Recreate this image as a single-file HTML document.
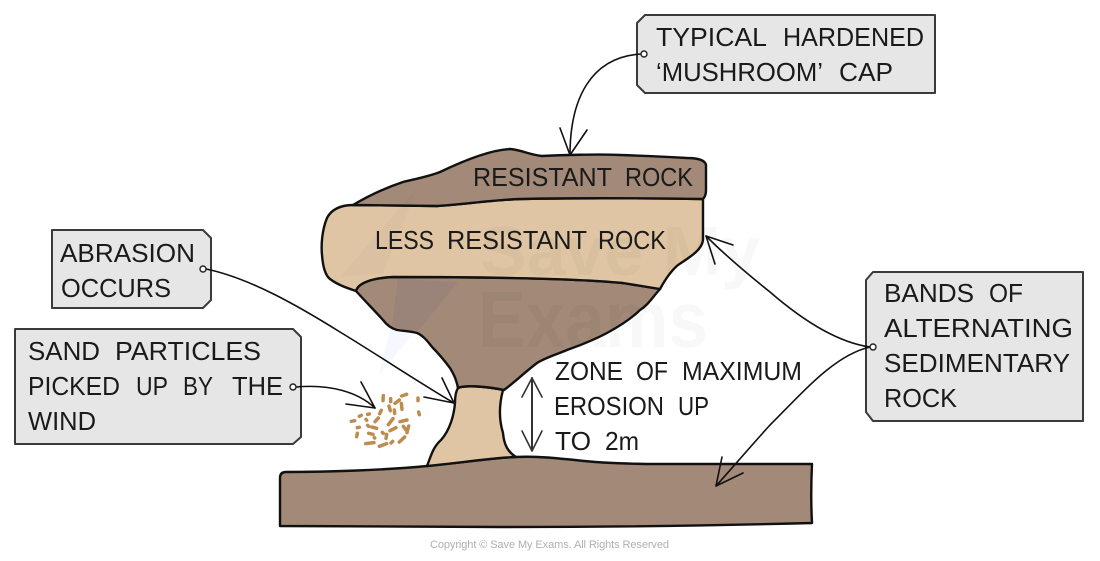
<!DOCTYPE html>
<html><head><meta charset="utf-8"><style>
html,body{margin:0;padding:0;background:#fff;width:1100px;height:561px;overflow:hidden}
svg{display:block}
text{font-family:"Liberation Sans",sans-serif;font-size:26px;fill:#1a1a1a}
</style></head><body>
<svg width="1100" height="561" viewBox="0 0 1100 561" xmlns="http://www.w3.org/2000/svg">
<!-- watermark on white -->
<polygon points="397,278 458,282 413,333 378,377 390,330" fill="#f5f8ff"/>
<!-- ground -->
<path d="M280 526 L280 478 Q280 472 286 472 C330 472 385 470 427 466 C460 463 490 458 515 457 C535 456 555 458 575 460 C600 463 630 464 660 464 L812 464 C811 485 811 505 812 523 C700 526 600 527 500 527 C420 527 350 526 280 526 Z" fill="#a28978" stroke="#111" stroke-width="2.4" stroke-linejoin="round"/>
<!-- neck -->
<path d="M458 388 C464 385 485 386 503 390 C499 405 499 420 503 433 C504 445 508 452 516 457 C490 458 460 463 427 466 C431 456 433 447 441 440 C450 430 454 415 455 403 C455 396 456 391 458 388 Z" fill="#dfc5a3" stroke="#111" stroke-width="2.4" stroke-linejoin="round"/>
<!-- lower brown -->
<path d="M356 291 C358 283 372 278 393 277 C430 277 560 277 623 283 L660 289 C652 298 648 305 640 310 C630 320 618 327 607 333 C590 342 578 346 567 350 C555 355 545 358 537 363 C525 372 515 382 504 390 C485 386 464 385 458 388 C456 378 453 373 450 368 C444 360 440 355 433 348 C428 342 424 336 417 333 C410 331 403 331 397 330 C390 328 386 324 383 320 C374 310 365 301 356 291 Z" fill="#a28978" stroke="#111" stroke-width="2.4" stroke-linejoin="round"/>
<!-- middle band -->
<path d="M353 205 C340 205 331 210 327 218 C322 230 321 245 322 255 C323 268 326 276 330 279 C338 285 347 288 356 291 C358 283 372 278 393 277 C430 277 560 277 623 283 L660 289 C666 278 672 270 678 265 C690 257 702 250 703 240 L703 199 C640 198 560 198 520 199 C490 200 460 205 437 206 Z" fill="#dfc5a3" stroke="#111" stroke-width="2.4" stroke-linejoin="round"/>
<!-- cap -->
<path d="M353 205 C370 195 385 188 403 182 C420 178 430 176 440 172 C465 160 490 150 510 149 C522 150 530 155 542 156 C560 155 600 154 620 155 C650 156 670 157 687 158 C697 158 705 160 706 165 L706 190 Q706 196 703 199 C640 198 560 198 520 199 C490 200 460 205 437 206 Z" fill="#a28978" stroke="#111" stroke-width="2.4" stroke-linejoin="round"/>
<!-- watermark on rock -->
<g style="mix-blend-mode:multiply">
<polygon points="398,279 458,282 418,331 404,330 392,326" fill="#f2f4ff"/>
<polygon points="418,187 383,273 340,277" fill="#fbfafc"/>
</g>
<g opacity="0.022">
<text x="480" y="275" style="font-size:70px;font-weight:bold;fill:#000" textLength="280" lengthAdjust="spacingAndGlyphs">Save My</text>
<text x="478" y="347" style="font-size:80px;font-weight:bold;fill:#000" textLength="230" lengthAdjust="spacingAndGlyphs">Exams</text>
</g>
<!-- boxes -->
<g fill="#e6e6e6" stroke="#3a3a3a" stroke-width="2" stroke-linejoin="round">
<path d="M645 15 L935 15 L935 93 L645 93 L637 85 L637 23 Z"/>
<path d="M52 230 L203 230 L211 238 L211 300 L203 308 L52 308 Z"/>
<path d="M15 329 L293 329 L301 337 L301 437 L293 444 L15 444 Z"/>
<path d="M873 272 L1083 272 L1083 421 L873 421 L866 412 L866 280 Z"/>
</g>
<!-- connectors -->
<g fill="none" stroke="#111" stroke-width="1.6" stroke-linecap="round" stroke-linejoin="round">
<path d="M641 54 C590 57 570 100 570 155"/>
<path d="M560 128 L570 155 L587 130"/>
<path d="M206 269 C250 278 300 307 340 332 C378 355 418 382 454 403"/>
<path d="M442 378 L454 403 L424 397"/>
<path d="M296 387 C330 384 358 392 375 408"/>
<path d="M361 382 L375 408 L346 404"/>
<path d="M870 347 C835 342 800 318 770 292 C745 272 725 255 706 236"/>
<path d="M715 264 L706 236 L733 245"/>
<path d="M870 347 C835 355 805 390 770 425 C750 447 733 467 716 486"/>
<path d="M722 457 L716 486 L743 473"/>
<path d="M532 378 L532 450" stroke="#333" stroke-width="2"/>
<path d="M522 397 L532 378 L542 397 M522 431 L532 451 L542 431" stroke="#333"/>
</g>
<g fill="#fff" stroke="#222" stroke-width="1.4">
<circle cx="644" cy="54" r="3"/><circle cx="203" cy="269" r="3"/><circle cx="293" cy="387" r="3"/><circle cx="873" cy="347" r="3"/>
</g>
<!-- sand -->
<g transform="translate(340 380) scale(.3333)" stroke="#bd8c50" stroke-width="10.5" stroke-linecap="round" fill="none">
<path d="M130 47L129 62M152 56L152 65M185 48L200 43M165 70L178 60M184 70L186 88M147 78L151 92M163 90L164 100M124 91L119 101M234 54L234 62M236 96L238 104M34 124L44 122M58 109L64 106M83 103L88 102M78 118L80 121M105 125L115 114M145 134L159 116M180 125L201 120M52 143L58 142M83 136L86 139M95 141L110 145M150 152L168 143M190 139L198 150M206 138L201 158M52 160L50 170M86 160L99 163M127 157L130 160M140 163L138 175M103 173L104 174M77 191L102 188M118 199L140 191M153 189L158 184M178 186L194 171"/>
</g>
<!-- labels -->
<g lengthAdjust="spacingAndGlyphs">
<text lengthAdjust="spacingAndGlyphs" x="656" y="46" textLength="111">TYPICAL</text><text lengthAdjust="spacingAndGlyphs" x="783" y="46" textLength="141">HARDENED</text>
<text lengthAdjust="spacingAndGlyphs" x="656" y="81" textLength="167">‘MUSHROOM’</text><text lengthAdjust="spacingAndGlyphs" x="839" y="81" textLength="54">CAP</text>
<text lengthAdjust="spacingAndGlyphs" x="473" y="186" textLength="139">RESISTANT</text><text lengthAdjust="spacingAndGlyphs" x="625" y="186" textLength="68">ROCK</text>
<text lengthAdjust="spacingAndGlyphs" x="375" y="249" textLength="59">LESS</text><text lengthAdjust="spacingAndGlyphs" x="447" y="249" textLength="140">RESISTANT</text><text lengthAdjust="spacingAndGlyphs" x="598" y="249" textLength="68">ROCK</text>
<text lengthAdjust="spacingAndGlyphs" x="60" y="262" textLength="135">ABRASION</text>
<text lengthAdjust="spacingAndGlyphs" x="61" y="297" textLength="110">OCCURS</text>
<text lengthAdjust="spacingAndGlyphs" x="28" y="360" textLength="72">SAND</text><text lengthAdjust="spacingAndGlyphs" x="115" y="360" textLength="146">PARTICLES</text>
<text lengthAdjust="spacingAndGlyphs" x="28" y="395" textLength="92">PICKED</text><text lengthAdjust="spacingAndGlyphs" x="136" y="395" textLength="32">UP</text><text lengthAdjust="spacingAndGlyphs" x="183" y="395" textLength="30">BY</text><text lengthAdjust="spacingAndGlyphs" x="232" y="395" textLength="51">THE</text>
<text lengthAdjust="spacingAndGlyphs" x="28" y="430" textLength="68">WIND</text>
<text lengthAdjust="spacingAndGlyphs" x="884" y="302" textLength="90">BANDS</text><text lengthAdjust="spacingAndGlyphs" x="989" y="302" textLength="34">OF</text>
<text lengthAdjust="spacingAndGlyphs" x="884" y="337" textLength="189">ALTERNATING</text>
<text lengthAdjust="spacingAndGlyphs" x="884" y="372" textLength="186">SEDIMENTARY</text>
<text lengthAdjust="spacingAndGlyphs" x="884" y="407" textLength="73">ROCK</text>
<text lengthAdjust="spacingAndGlyphs" x="555" y="380" textLength="68">ZONE</text><text lengthAdjust="spacingAndGlyphs" x="636" y="380" textLength="32">OF</text><text lengthAdjust="spacingAndGlyphs" x="682" y="380" textLength="120">MAXIMUM</text>
<text lengthAdjust="spacingAndGlyphs" x="554" y="415" textLength="110">EROSION</text><text lengthAdjust="spacingAndGlyphs" x="678" y="415" textLength="31">UP</text>
<text lengthAdjust="spacingAndGlyphs" x="555" y="450" textLength="36">TO</text><text lengthAdjust="spacingAndGlyphs" x="605" y="450" textLength="34">2m</text>
</g>
<text x="430" y="548" textLength="239" style="font-size:11px;fill:#b0b0b0">Copyright © Save My Exams. All Rights Reserved</text>
</svg>
</body></html>
